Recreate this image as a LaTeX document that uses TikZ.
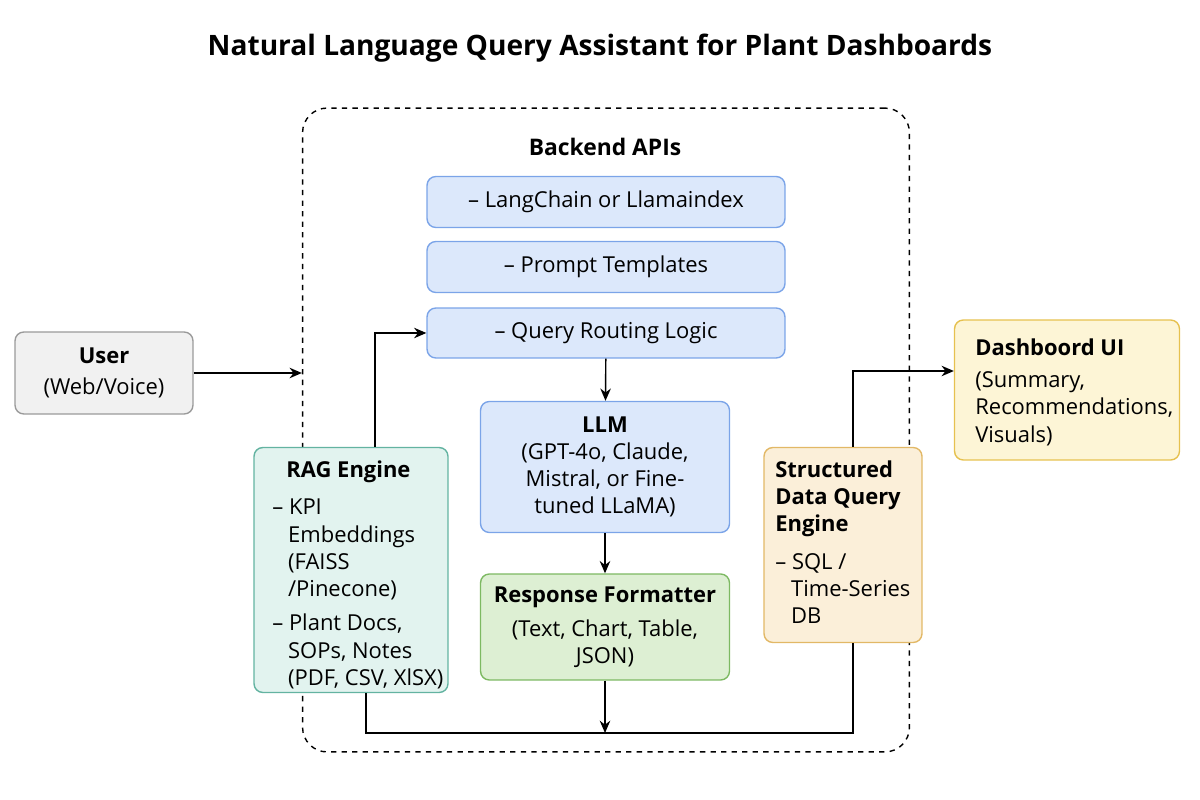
\documentclass[tikz,border=0pt]{standalone}
\usepackage{fontspec}
\setmainfont{Open Sans}
\usetikzlibrary{positioning,arrows.meta}
\definecolor{bluefill}{HTML}{DCE8FB}\definecolor{blueline}{HTML}{7BA4E8}
\definecolor{grayfill}{HTML}{F1F1F1}\definecolor{grayline}{HTML}{9A9A9A}
\definecolor{tealfill}{HTML}{E2F3EF}\definecolor{tealline}{HTML}{63B3A1}
\definecolor{greenfill}{HTML}{DDEFD3}\definecolor{greenline}{HTML}{7DB962}
\definecolor{orangefill}{HTML}{FBEFD9}\definecolor{orangeline}{HTML}{E2B866}
\definecolor{yellowfill}{HTML}{FDF5D6}\definecolor{yellowline}{HTML}{E6C14F}
\tikzset{
  box/.style={draw, rounded corners=5pt, line width=0.8pt, inner sep=0pt},
  txt/.style={font=\fontsize{12.5}{15.5}\selectfont, align=center, inner sep=0pt},
  link/.style={line width=0.8pt, -{Stealth[length=7pt,width=6pt]}},
  wire/.style={line width=0.8pt}
}
\begin{document}
\begin{tikzpicture}[x=0.02cm,y=-0.02cm]
    \useasboundingbox (0,0) rectangle (1200,800);
    \node[font=\fontsize{16}{19}\selectfont\bfseries] (title) at (600,48) {Natural Language Query Assistant for Plant Dashboards};
    \node[draw, dashed, rounded corners=14pt, line width=0.8pt, minimum width=12.14cm, minimum height=12.88cm] (backend) at (606,430) {};
    \node[txt, font=\fontsize{13}{16}\selectfont\bfseries] (bapi) at (605,147) {Backend APIs};

    % backend layers
    \node[box, fill=bluefill, draw=blueline, minimum width=7.16cm, minimum height=1.02cm, txt] (chain) at (606,202) {– LangChain or Llamaindex};
    \node[box, fill=bluefill, draw=blueline, minimum width=7.16cm, minimum height=1.02cm, txt] (prompt) at (606,267) {– Prompt Templates};
    \node[box, fill=bluefill, draw=blueline, minimum width=7.16cm, minimum height=1.0cm, txt] (route) at (606,333) {– Query Routing Logic};

    \node[box, fill=grayfill, draw=grayline, minimum width=3.56cm, minimum height=1.64cm, txt] (user) at (104,373) {\textbf{User}\\[2pt](Web/Voice)};
    \node[box, fill=bluefill, draw=blueline, minimum width=4.98cm, minimum height=2.62cm, txt] (llm) at (605,467) {\textbf{LLM}\\(GPT-4o, Claude,\\Mistral, or Fine-\\tuned LLaMA)};
    \node[box, fill=greenfill, draw=greenline, minimum width=4.98cm, minimum height=2.12cm, txt] (fmt) at (605,627) {\textbf{Response Formatter}\\[4pt](Text, Chart, Table,\\JSON)};
    \node[box, fill=tealfill, draw=tealline, minimum width=3.88cm, minimum height=4.9cm] (rag) at (351,570) {};
    \node[txt, align=left, anchor=north west] (ragtxt) at (272,460) {\hspace*{8pt}\textbf{RAG Engine}\\[6pt]– KPI\\\hspace*{9pt}Embeddings\\\hspace*{9pt}(FAISS\\\hspace*{9pt}/Pinecone)\\[4pt]– Plant Docs,\\\hspace*{9pt}SOPs, Notes\\\hspace*{9pt}(PDF, CSV, XlSX)};
    \node[box, fill=orangefill, draw=orangeline, minimum width=3.16cm, minimum height=3.9cm] (sdq) at (843,545) {};
    \node[txt, align=left, anchor=north west] (sdqtxt) at (775,460) {\textbf{Structured}\\\textbf{Data Query}\\\textbf{Engine}\\[6pt]– SQL /\\\hspace*{9pt}Time-Series\\\hspace*{9pt}DB};
    \node[box, fill=yellowfill, draw=yellowline, minimum width=4.5cm, minimum height=2.8cm] (dash) at (1067,390) {};
    \node[txt, align=left, anchor=north west] (dashtxt) at (975,338) {\textbf{Dashboord UI}\\[3pt](Summary,\\Recommendations,\\Visuals)};

    \coordinate (ragbot) at (366,733);
    \coordinate (sdqbot) at (853,733);
    \coordinate (fmtbot) at (605,733);

    \draw[link] (user.east) -- (backend.west |- user.east);
    \draw[link] (route) -- (llm);
    \draw[link] (llm) -- (fmt);
    \draw[link] (rag.north -| 375,0) |- (route.west);
    \draw[link] (sdq.north -| 853,0) |- (dash.west |- 0,371);
    \draw[wire] (rag.south -| ragbot) -- (ragbot) -- (sdqbot) -- (sdq.south -| sdqbot);
    \draw[link] (fmt.south) -- (fmtbot);
\end{tikzpicture}
\end{document}
